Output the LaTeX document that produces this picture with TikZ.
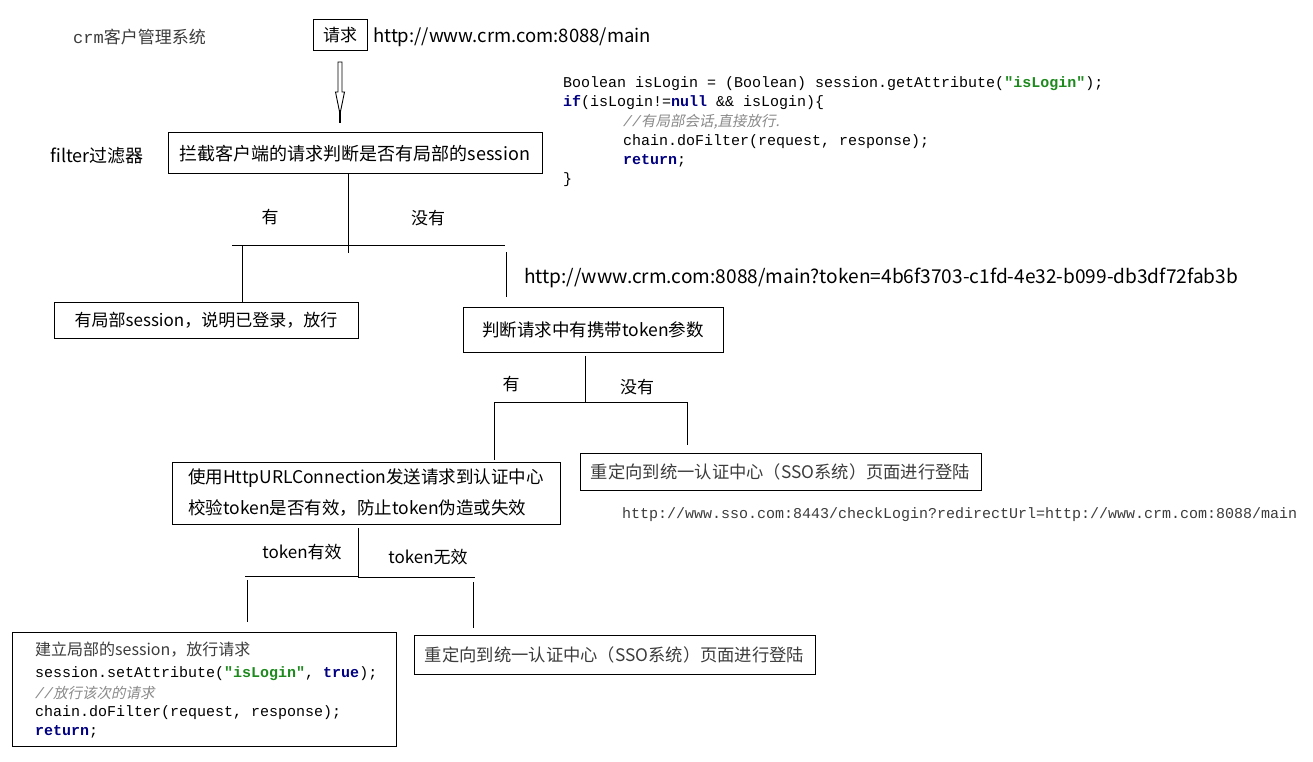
\documentclass[tikz,border=0pt]{standalone}
\usepackage{fontspec}
\setmainfont{Noto Sans CJK SC}
\newfontfamily\mono{Liberation Mono}
\newfontfamily\cjkit[FakeSlant=0.2]{Noto Sans CJK SC}
\definecolor{kw}{HTML}{000080}
\definecolor{str}{HTML}{1E8A1E}
\definecolor{cmt}{HTML}{8A8A8A}
\definecolor{gtxt}{HTML}{3C3C3C}
\tikzset{
  box/.style={draw=black, line width=1pt, inner sep=0pt, align=center},
  lbl/.style={inner sep=0pt, font=\fontsize{17}{20}\selectfont},
  code/.style={inner sep=0pt, anchor=west, font=\mono\fontsize{15}{18}\selectfont},
  wire/.style={line width=1pt},
}
\newcommand{\kwd}[1]{{\color{kw}\bfseries #1}}
\newcommand{\strg}[1]{{\color{str}\bfseries #1}}
\begin{document}
\begin{tikzpicture}[x=1pt,y={(0pt,-1pt)}]
\useasboundingbox[fill=white] (0,0) rectangle (1313,762);

% top texts
\node[inner sep=0pt, anchor=west, text=gtxt, font=\fontsize{17}{20}\selectfont] (title) at (73,37) {{\mono crm}客户管理系统};
\node[box, minimum width=54pt, minimum height=31pt, font=\fontsize{17}{20}\selectfont] (req) at (340,35.5) {请求};
\node[inner sep=0pt, anchor=west, font=\fontsize{18.5}{22}\selectfont] (url1) at (373,37) {http://www.crm.com:8088/main};

% hollow arrow
\draw[line width=0.9pt, fill=white] (338,62) -- (342,62) -- (342,92) -- (344.5,92) -- (340,114) -- (335.5,92) -- (338,92) -- cycle;
\draw[line width=1.6pt] (340,110) -- (340,123);

\node[inner sep=0pt, anchor=west, font=\fontsize{18}{21}\selectfont] (flt) at (50,156) {filter过滤器};
\node[box, minimum width=374pt, minimum height=41pt, font=\fontsize{18}{21}\selectfont] (filter) at (355,153.5) {拦截客户端的请求判断是否有局部的session};

% code block top right
\node[code] (c1) at (563,83.5) {Boolean isLogin = (Boolean) session.getAttribute(\strg{"isLogin"});};
\node[code] (c2) at (563,102.5) {\kwd{if}(isLogin!=\kwd{null} \&\& isLogin)\{};
\node[code, text=cmt] (c3) at (623,121.5) {{\itshape //}{\cjkit\fontsize{14.5}{17}\selectfont 有局部会话,直接放行.}};
\node[code] (c4) at (623,141.5) {chain.doFilter(request, response);};
\node[code] (c5) at (623,160.5) {\kwd{return};};
\node[code] (c6) at (563,179.5) {\}};

% branch 1
\coordinate (j1) at (348,253);
\coordinate (b1L) at (232,245);
\coordinate (b1R) at (505,245);
\coordinate (l1) at (242,245);
\coordinate (r1a) at (506,252);
\coordinate (r1b) at (506,297);
\draw[wire] (filter.south -| j1) -- (j1);
\draw[wire] (b1L) -- (b1R);
\draw[wire] (l1) -- (l1 |- 0,302);
\draw[wire] (r1a) -- (r1b);
\node[lbl] (yes1) at (270,217) {有};
\node[lbl] (no1) at (428,218) {没有};

\node[box, minimum width=304pt, minimum height=36pt, font=\fontsize{17}{20}\selectfont] (local) at (206,320) {有局部session，说明已登录，放行};
\node[inner sep=0pt, anchor=west, font=\fontsize{19.1}{22}\selectfont] (url2) at (524,278) {http://www.crm.com:8088/main?token=4b6f3703-c1fd-4e32-b099-db3df72fab3b};
\node[box, minimum width=260pt, minimum height=45pt, font=\fontsize{17.5}{20}\selectfont] (token) at (593,329.5) {判断请求中有携带token参数};

% branch 2
\coordinate (j2a) at (585,356);
\coordinate (j2) at (585,402);
\coordinate (b2L) at (494,402);
\coordinate (b2R) at (688,402);
\coordinate (l2) at (494,460);
\coordinate (r2) at (687,445);
\draw[wire] (j2a) -- (j2);
\draw[wire] (b2L) -- (b2R);
\draw[wire] (b2L) -- (l2);
\draw[wire] (687,402) -- (r2);
\node[lbl] (yes2) at (511,384) {有};
\node[lbl] (no2) at (637,387) {没有};

\node[box, minimum width=388pt, minimum height=62pt, align=left, font=\fontsize{17.5}{31}\selectfont] (verify) at (366,493) {使用HttpURLConnection发送请求到认证中心\\校验token是否有效，防止token伪造或失效};
\node[box, minimum width=401pt, minimum height=37pt, text=gtxt, font=\fontsize{17.3}{20}\selectfont] (redir1) at (780.5,471.5) {重定向到统一认证中心（SSO系统）页面进行登陆};
\node[inner sep=0pt, anchor=west, text=gtxt, font=\mono\fontsize{15}{18}\selectfont] (url3) at (622,515) {http://www.sso.com:8443/checkLogin?redirectUrl=http://www.crm.com:8088/main};

% branch 3
\coordinate (j3a) at (358,528);
\coordinate (j3) at (358,577);
\coordinate (b3L) at (245,576);
\coordinate (b3R) at (475,577);
\coordinate (l3a) at (247,580);
\coordinate (l3b) at (247,622);
\coordinate (r3a) at (473,582);
\coordinate (r3b) at (473,628);
\draw[wire] (j3a) -- (j3);
\draw[wire] (b3L) -- (358,576);
\draw[wire] (358,577) -- (b3R);
\draw[wire] (l3a) -- (l3b);
\draw[wire] (r3a) -- (r3b);
\node[lbl] (valid) at (302,552) {token有效};
\node[lbl] (invalid) at (428,557) {token无效};

% bottom-left code box
\node[box, minimum width=384pt, minimum height=114pt] (setbox) at (204,689) {};
\node[inner sep=0pt, anchor=west, text=gtxt, font=\fontsize{16}{19}\selectfont] (s0) at (35,650) {建立局部的session，放行请求};
\node[code] (s1) at (35,673.5) {session.setAttribute(\strg{"isLogin"}, \kwd{true});};
\node[code, text=cmt] (s2) at (35,692.5) {{\itshape //}{\cjkit\fontsize{14.5}{17}\selectfont 放行该次的请求}};
\node[code] (s3) at (35,712.5) {chain.doFilter(request, response);};
\node[code] (s4) at (35,731.5) {\kwd{return};};

\node[box, minimum width=401pt, minimum height=39pt, text=gtxt, font=\fontsize{17.3}{20}\selectfont] (redir2) at (614.5,654.5) {重定向到统一认证中心（SSO系统）页面进行登陆};
\end{tikzpicture}
\end{document}
